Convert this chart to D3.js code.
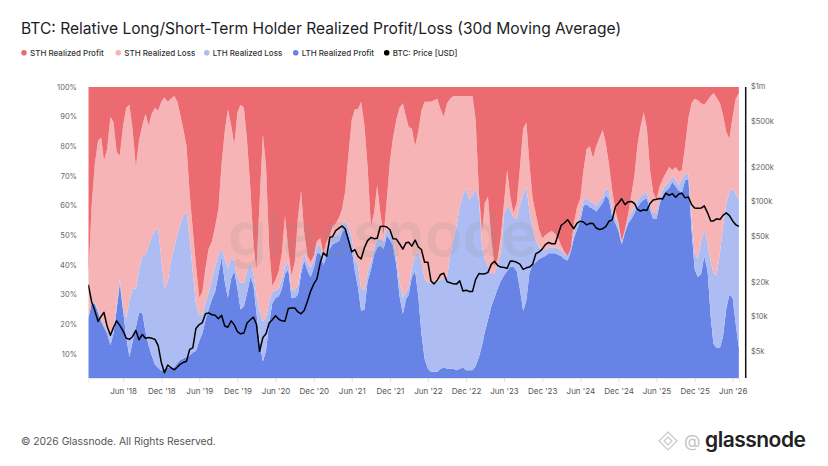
<!DOCTYPE html>
<html>
<head>
<meta charset="utf-8">
<script src="https://cdn.jsdelivr.net/npm/d3@7"></script>
<style>
  body { margin: 0; background: #fff; }
  svg text { font-family: Inter, "Noto Sans", sans-serif; }
</style>
</head>
<body>
<div class="vis-area"></div>
<script>
var width = 828;
var height = 466;

// semi-monthly samples
var dates = [
  "2017-12-16",
  "2018-01-01","2018-01-16","2018-02-01","2018-02-16","2018-03-01","2018-03-16","2018-04-01","2018-04-16","2018-05-01","2018-05-16","2018-06-01","2018-06-16",
  "2018-07-01","2018-07-16","2018-08-01","2018-08-16","2018-09-01","2018-09-16","2018-10-01","2018-10-16","2018-11-01","2018-11-16","2018-12-01","2018-12-16",
  "2019-01-01","2019-01-16","2019-02-01","2019-02-16","2019-03-01","2019-03-16","2019-04-01","2019-04-16","2019-05-01","2019-05-16","2019-06-01","2019-06-16",
  "2019-07-01","2019-07-16","2019-08-01","2019-08-16","2019-09-01","2019-09-16","2019-10-01","2019-10-16","2019-11-01","2019-11-16","2019-12-01","2019-12-16",
  "2020-01-01","2020-01-16","2020-02-01","2020-02-16","2020-03-01","2020-03-16","2020-04-01","2020-04-16","2020-05-01","2020-05-16","2020-06-01","2020-06-16",
  "2020-07-01","2020-07-16","2020-08-01","2020-08-16","2020-09-01","2020-09-16","2020-10-01","2020-10-16","2020-11-01","2020-11-16","2020-12-01","2020-12-16",
  "2021-01-01","2021-01-16","2021-02-01","2021-02-16","2021-03-01","2021-03-16","2021-04-01","2021-04-16","2021-05-01","2021-05-16","2021-06-01","2021-06-16",
  "2021-07-01","2021-07-16","2021-08-01","2021-08-16","2021-09-01","2021-09-16","2021-10-01","2021-10-16","2021-11-01","2021-11-16","2021-12-01","2021-12-16",
  "2022-01-01","2022-01-16","2022-02-01","2022-02-16","2022-03-01","2022-03-16","2022-04-01","2022-04-16","2022-05-01","2022-05-16","2022-06-01","2022-06-16",
  "2022-07-01","2022-07-16","2022-08-01","2022-08-16","2022-09-01","2022-09-16","2022-10-01","2022-10-16","2022-11-01","2022-11-16","2022-12-01","2022-12-16",
  "2023-01-01","2023-01-16","2023-02-01","2023-02-16","2023-03-01","2023-03-16","2023-04-01","2023-04-16","2023-05-01","2023-05-16","2023-06-01","2023-06-16",
  "2023-07-01","2023-07-16","2023-08-01","2023-08-16","2023-09-01","2023-09-16","2023-10-01","2023-10-16","2023-11-01","2023-11-16","2023-12-01","2023-12-16",
  "2024-01-01","2024-01-16","2024-02-01","2024-02-16","2024-03-01","2024-03-16","2024-04-01","2024-04-16","2024-05-01","2024-05-16","2024-06-01","2024-06-16",
  "2024-07-01","2024-07-16","2024-08-01","2024-08-16","2024-09-01","2024-09-16","2024-10-01","2024-10-16","2024-11-01","2024-11-16","2024-12-01","2024-12-16",
  "2025-01-01","2025-01-16","2025-02-01","2025-02-16","2025-03-01","2025-03-16","2025-04-01","2025-04-16","2025-05-01","2025-05-16","2025-06-01","2025-06-16",
  "2025-07-01","2025-07-16","2025-08-01","2025-08-16","2025-09-01","2025-09-16","2025-10-01","2025-10-16","2025-11-01","2025-11-16","2025-12-01","2025-12-16",
  "2026-01-01","2026-01-16","2026-02-01","2026-02-16","2026-03-01","2026-03-16","2026-04-01","2026-04-16","2026-05-01","2026-05-16","2026-06-01","2026-06-16",
  "2026-07-01"
];

// shares in %, bottom to top of the stack
var lthProfit = [
  22,
  27,27,24,21,19,17,13,17,25,34,24.5,15.5, 9,14,19,24,24,17.5,13,9.5,6.4,5.4,4.4,5,
  5.5,5.5,5.5,7,8,8.5,9,9.5,10.5,11,14.5,17, 21.5,25,28.5,31,37,42.5,34.5,29,35.5,38,32,25,
  26,30.5,36,33,24,14,7.5,11,20.5,27,29,29.5, 32,37,38.5,29,29,30,37,41.5,38,36,39,44,
  44,40,43,45.5,47,47.5,48,51,52.5,50,45.5,38, 32.5,24.5,25,34.5,38.5,43.5,46,46.5,45.5,50,48.5,46.5,
  40,29.5,23.5,28.5,30,36,38,29.5,17,8.5,5,4, 4,4,5,5.5,5,5,5,4.5,5,5.5,4.5,4.5,
  4.5,6,9,13,17.5,21.5,26,29,32,34.5,36.5,38, 39.5,39.5,38,32,24.5,28,37.5,40,41,42,42.5,43,
  44,44,44,43.5,43,42,41.5,44.5,49,52,55,60, 60.5,59.5,59,58,59.5,61,63.5,62,56,54,51.5,47,
  51,54,55.5,57.5,59.5,61,62,62.5,58.5,55.5,55.5,60.5, 63.5,65,66,68,66.5,65,64.5,68.5,69,52,38.5,36,
  37,43,38,22.5,13.5,12,12,16,25,30,29,20,
  12
];
var lthLoss = [
  0,
  0,0.5,0.5,0.5,1,1,3,2,2,1,1.5,6.5, 19,18,13,14,19,26,33.5,40,45,47,37.6,27,
  29,36,40.5,43.5,45.5,48,49,39.5,27,16,8.5,6.5, 6,5.5,7,8.5,6.5,3,7.5,10,7,3,4,9,
  8,7.5,4.5,4,6,10.5,13.5,11.5,7,4,2.5,2.5, 3,2.5,2.5,2.5,2.5,3,2.5,2.5,2.5,3,2.5,2.5,
  2.5,2.5,2.5,2.5,2.5,2.5,3,2.5,2.5,2.5,4,4, 7.5,7.5,6.5,3,2.5,2.5,2.5,2.5,2.5,2.5,2.5,2.5,
  2.5,4.5,5.5,2.5,2.5,3,5.5,15,24,27,29,30, 30.5,30.5,30,30,31,38,44,48.5,55,58,61.5,57.5,
  59,60,52.5,33,24.5,18,11,8,8,9.5,20.5,22, 19,16.5,17.5,28,39.5,38.5,20.5,12.5,7,4,2.5,2,
  2,2,2,2,2,2,1.5,1,2,2,2,2, 2,2,2,2,2,2,2.5,3,2,2,1.5,0.5,
  0.5,1.5,2,2,2,2,2,2,2,2,2,2, 2,2,2,2,2,2,4.5,2,2,4,5.5,6,
  11,9,9.5,18.5,24,24.5,32,37,35.5,34.5,37,44,
  50
];
var sthLoss = [
  13,
  33,46.5,57.5,61.5,55,61,74,69,51,42,61,71, 66,54,41,44,44,47.5,40.5,41.5,41.5,39.5,53,64.5,
  60.5,54.5,51,44.5,37.5,29.5,22,15,14.5,13,6,7.5, 11.5,15,12.5,13.5,15.5,28.5,43,53.5,44.5,39.5,55.5,60,
  59,44,25.5,10,8,36.5,63,51,18.5,2,3.5,6, 9,17,4,5,9.5,23,25.5,7,2.5,2,1.5,1.5,
  2.5,1.5,2.5,2,3.5,4,5,5.5,10,24.5,39.5,50.5, 52.5,63,55.5,35.5,12,11.5,18.5,8.5,2,9.5,24,34,
  46.5,59,65.5,59,54,47,36.5,40.5,51,59.5,61,61, 61,61.5,57.5,54.5,58.5,53,48,44,37,33.5,31,35,
  33.5,23,2.5,5,19,23.5,12,2.5,2,5,4,12, 4.5,1.5,5.5,12.5,22,21.5,16,10,9,6,4,5,
  5,5.5,4.5,3.5,1.5,0.5,0,0,3,5.5,5.5,10, 16.5,18.5,15,20,21.5,22.5,15,9,7,2.5,1,0.5,
  0.5,1.5,6.5,11,18.5,23.5,27.5,21.5,11.5,7,4.5,4, 3.5,4,5,2,4.5,4.5,3,9.5,18.5,38.5,52,53.5,
  46.5,42,48,56,60.5,60,50.5,37.5,24.5,18,24,32,
  36
];
var sthProfit = [
  65,
  40,26,18,17,25,21,10,12,22,23,13,7, 6,14,27,18,13,9,13,9,7,8,5,3.5,
  5,4,3,5,9,14,20,36,48,60,71,69, 61,54.5,52,47,41,26,15,7.5,13,19.5,8.5,6,
  7,18,34,53,62,39,16,26.5,54,67,65,62, 56,43.5,55,63.5,59,44,35,49,57,59,57,52,
  51,56,52,50,47,46,44,41,35,23,11,7.5, 7.5,5,13,27,47,42.5,33,42.5,50,38,25,17,
  11,7,5.5,10,13.5,14,20,15,8,5,5,5, 4.5,4,7.5,10,5.5,4,3,3,3,3,3,3,
  3,11,36,49,39,37,51,60.5,58,51,39,28, 37,42.5,39,27.5,14,12,26,37.5,43,48,51,50,
  49,48.5,49.5,51,53.5,55.5,57,54.5,46,40.5,37.5,28, 21,20,24,20,17,14.5,19,26,35,41.5,46,52,
  48,43,36,29.5,20,13.5,8.5,14,28,35.5,38,33.5, 31,29,27,28,27,28.5,28,20,10.5,5.5,4,4.5,
  5.5,6,4.5,3,2,3.5,5.5,9.5,15,17.5,10,4,
  2
];
var priceUsd = [
  19000,
  13500,11300,9100,10100,10900,8300,6900,8100,9200,8400,7500,6500, 6350,6700,7600,6300,7000,6500,6600,6500,6350,5600,4000,3250,
  3800,3600,3450,3650,3850,4000,4100,5200,5350,7900,8550,8900, 10600,10800,10400,10300,9600,10300,8300,8100,9200,8500,7400,7100,
  7200,8800,9400,9900,8600,5000,6600,7100,8800,9400,10200,9500, 9200,9150,11800,11900,11900,11000,10600,11300,13700,16700,19200,21300,
  29400,36000,33500,49000,49600,56000,59000,61500,57800,46400,36700,38300, 33500,31800,39900,45900,48800,47700,48100,60800,61300,60300,57000,47600,
  47300,43100,38700,43900,44400,41100,46300,40400,38400,29800,29800,20400, 19300,20800,23300,23900,20100,19700,19300,19200,20500,16700,17000,16600,
  16600,21100,23700,23500,23600,24300,28500,30300,28000,27000,26800,26300, 30500,30300,29700,28700,25800,26600,27000,28500,35400,36500,38700,42300,
  44200,43100,43100,52100,62400,65300,69700,63400,58200,65200,67700,66600, 62900,64800,64600,59000,57300,58200,60800,67600,69500,90600,97300,106000,
  94400,100000,100600,96100,86000,82700,85200,84000,96500,103500,105000,106800, 105700,118700,113300,117500,109300,116800,118600,108000,110000,94500,88000,87500,
  88000,92000,80000,68000,68000,71000,70000,76000,80000,76000,68000,63000,
  61000
];

var xTickDates = ["2018-06-01","2018-12-01","2019-06-01","2019-12-01","2020-06-01","2020-12-01","2021-06-01","2021-12-01",
  "2022-06-01","2022-12-01","2023-06-01","2023-12-01","2024-06-01","2024-12-01","2025-06-01","2025-12-01","2026-06-01"];
var pctTicks = [0.1, 0.2, 0.3, 0.4, 0.5, 0.6, 0.7, 0.8, 0.9, 1];
var priceTicks = [5000, 10000, 20000, 50000, 100000, 200000, 500000, 1000000];
var priceTickLabels = ["$5k", "$10k", "$20k", "$50k", "$100k", "$200k", "$500k", "$1m"];

var seriesKeys = ["lthProfit", "lthLoss", "sthLoss", "sthProfit"];
var seriesColors = {sthProfit: "#ec6b70", sthLoss: "#f6b4b6", lthLoss: "#adbcf3", lthProfit: "#6883e6"};
var legendItems = [
  {label: "STH Realized Profit", color: seriesColors.sthProfit},
  {label: "STH Realized Loss", color: seriesColors.sthLoss},
  {label: "LTH Realized Loss", color: seriesColors.lthLoss},
  {label: "LTH Realized Profit", color: seriesColors.lthProfit},
  {label: "BTC: Price [USD]", color: "#000"}
];

var parseDate = d3.utcParse("%Y-%m-%d");
var rows = dates.map(function(d, i) {
  return {date: parseDate(d), lthProfit: lthProfit[i], lthLoss: lthLoss[i], sthLoss: sthLoss[i], sthProfit: sthProfit[i], price: priceUsd[i]};
});

var plot = {left: 88.3, right: 739.3, top: 87, bottom: 378};

var x = d3.scaleUtc()
  .domain([parseDate("2017-12-16"), parseDate("2026-07-03")])
  .range([plot.left, plot.right]);
var y = d3.scaleLinear().domain([0, 1]).range([383.7, 87]);
var yPrice = d3.scaleLog().domain([1000, 1000000]).range([431.7, 86.7]);

var svg = d3.select('.vis-area')
  .append('svg')
  .attr('width', width)
  .attr('height', height);

svg.append('defs').append('clipPath')
  .attr('id', 'plot-clip')
  .append('rect')
  .attr('x', plot.left)
  .attr('y', plot.top)
  .attr('width', plot.right - plot.left)
  .attr('height', plot.bottom - plot.top);

// title and legend
svg.append('text')
  .attr('x', 21)
  .attr('y', 34)
  .attr('font-size', 15.6)
  .attr('fill', '#1d1d1f')
  .text('BTC: Relative Long/Short-Term Holder Realized Profit/Loss (30d Moving Average)');

var legendX = [24, 118.3, 206.7, 295.7, 386.7];
var legend = svg.selectAll('.legend')
  .data(legendItems)
  .enter()
  .append('g')
  .attr('class', 'legend')
  .attr('transform', (d, i) => `translate(${legendX[i]},52.7)`);
legend.append('circle').attr('r', 2.8).attr('fill', d => d.color);
legend.append('text')
  .attr('x', 6)
  .attr('dy', '0.35em')
  .attr('font-size', 8)
  .attr('font-weight', 500)
  .attr('fill', '#333')
  .text(d => d.label);

// stacked shares
var stack = d3.stack().keys(seriesKeys).offset(d3.stackOffsetExpand);
var layers = stack(rows);

var area = d3.area()
  .x(d => x(d.data.date))
  .y0(d => y(d[0]))
  .y1(d => y(d[1]));

var plotArea = svg.append('g').attr('clip-path', 'url(#plot-clip)');

plotArea.selectAll('.layer')
  .data(layers)
  .enter()
  .append('path')
  .attr('class', 'layer')
  .attr('fill', d => seriesColors[d.key])
  .attr('d', area);

// watermark
plotArea.append('text')
  .attr('x', 383)
  .attr('y', 256)
  .attr('text-anchor', 'middle')
  .attr('font-size', 62)
  .attr('font-weight', 600)
  .attr('fill', '#8a8a8a')
  .attr('opacity', 0.15)
  .text('glassnode');

var priceLine = d3.line()
  .x(d => x(d.date))
  .y(d => yPrice(d.price));

plotArea.append('path')
  .datum(rows)
  .attr('fill', 'none')
  .attr('stroke', '#000')
  .attr('stroke-width', 1.5)
  .attr('stroke-linejoin', 'round')
  .attr('d', priceLine);

// left axis
svg.selectAll('.pct-label')
  .data(pctTicks)
  .enter()
  .append('text')
  .attr('class', 'pct-label')
  .attr('x', 77)
  .attr('y', d => y(d))
  .attr('dy', '0.35em')
  .attr('text-anchor', 'end')
  .attr('font-size', 7.5)
  .attr('fill', '#666')
  .text(d => Math.round(d * 100) + '%');

// bottom axis
var xAxis = d3.axisBottom(x)
  .tickValues(xTickDates.map(parseDate))
  .tickFormat(d3.utcFormat("%b '%y"))
  .tickSize(4)
  .tickPadding(6);
var gx = svg.append('g')
  .attr('transform', `translate(0,${plot.bottom})`)
  .call(xAxis);
gx.select('.domain').attr('stroke', '#e6e6e6');
gx.selectAll('.tick line').attr('stroke', '#ddd');
gx.selectAll('.tick text')
  .attr('font-size', 8)
  .attr('fill', '#555')
  .attr('font-family', 'Inter, "Noto Sans", sans-serif');

// right price axis
svg.append('line')
  .attr('x1', 745.7).attr('x2', 745.7)
  .attr('y1', plot.top).attr('y2', plot.bottom)
  .attr('stroke', '#111')
  .attr('stroke-width', 1.5);
svg.selectAll('.price-label')
  .data(priceTicks)
  .enter()
  .append('text')
  .attr('class', 'price-label')
  .attr('x', 751)
  .attr('y', d => yPrice(d))
  .attr('dy', '0.35em')
  .attr('font-size', 7.5)
  .attr('fill', '#666')
  .text((d, i) => priceTickLabels[i]);

// footer
svg.append('text')
  .attr('x', 21)
  .attr('y', 445)
  .attr('font-size', 10.3)
  .attr('fill', '#555')
  .text('\u00a9 2026 Glassnode. All Rights Reserved.');

svg.append('path')
  .attr('d', 'M668,432 L677,441 L668,450 L659,441 Z M668,437 L672,441 L668,445 L664,441 Z')
  .attr('fill', 'none')
  .attr('stroke', '#c8c8c8')
  .attr('stroke-width', 1.2);
svg.append('text')
  .attr('x', 684)
  .attr('y', 447)
  .attr('font-size', 17)
  .attr('fill', '#c4c4c4')
  .text('@');
svg.append('text')
  .attr('x', 705)
  .attr('y', 447)
  .attr('font-size', 21)
  .attr('font-weight', 600)
  .attr('letter-spacing', -0.5)
  .attr('fill', '#222')
  .text('glassnode');
</script>
</body>
</html>
